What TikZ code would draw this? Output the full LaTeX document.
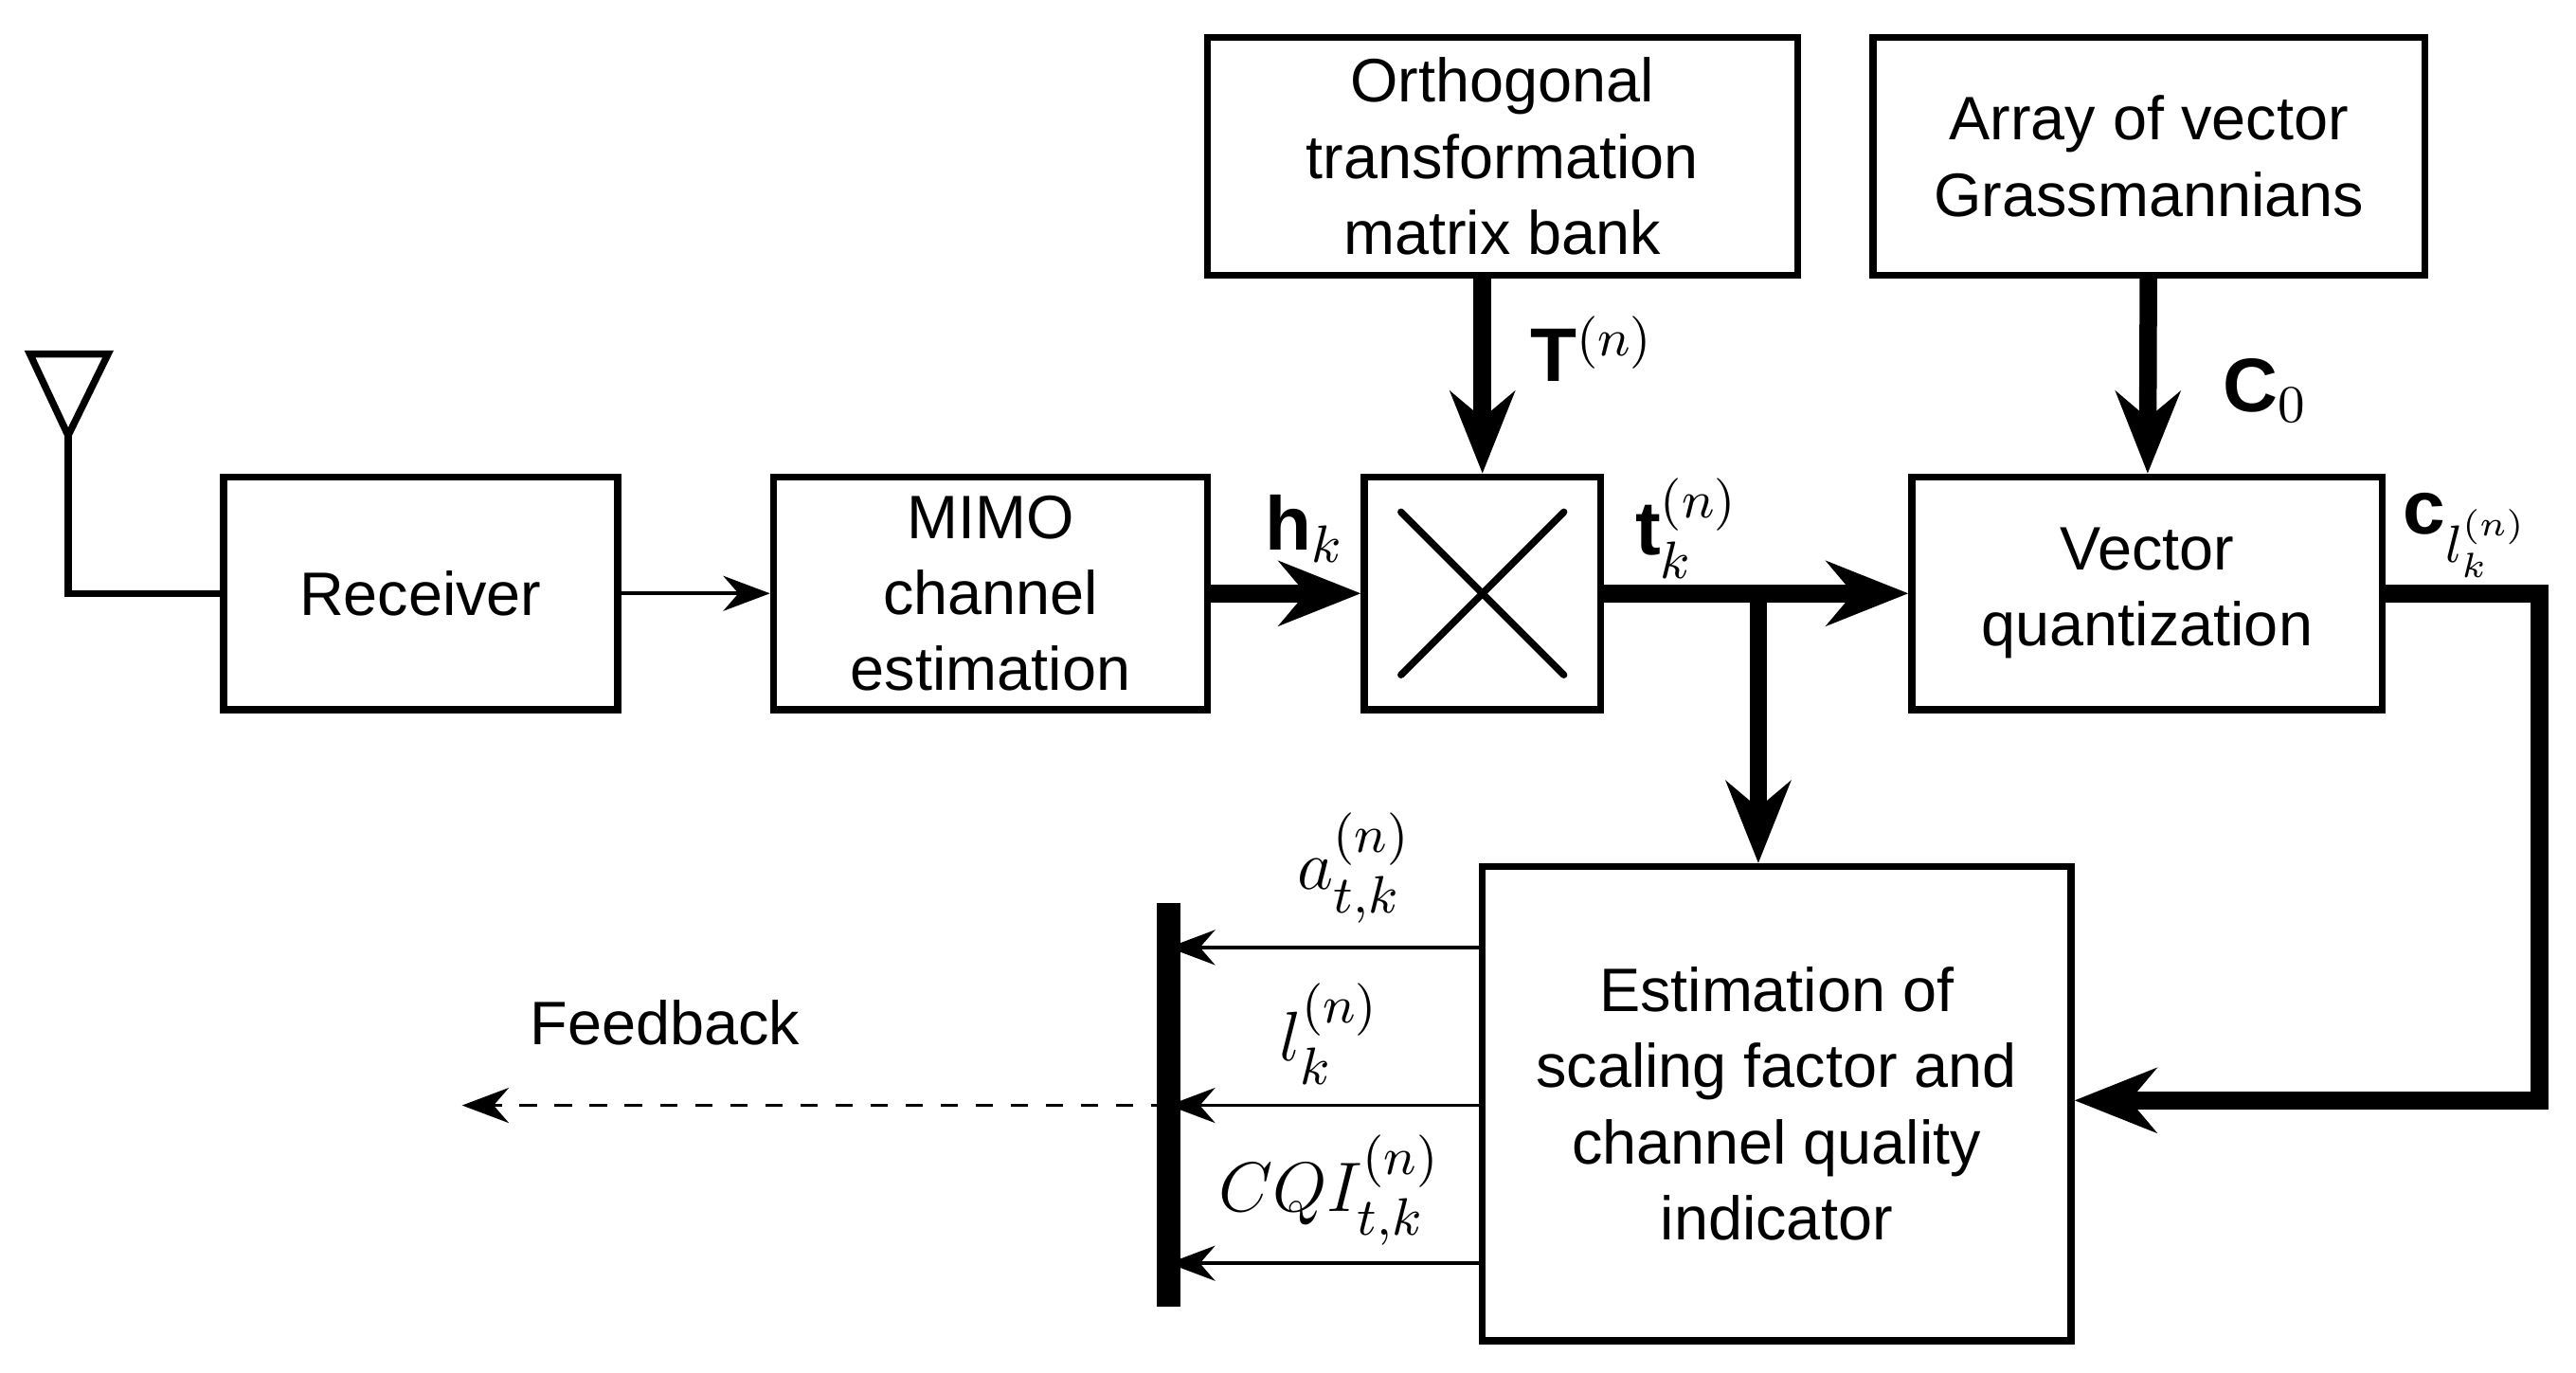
\documentclass[tikz,border=0pt]{standalone}
\usepackage{fontspec}
\setmainfont{Liberation Sans}
\usepackage{amsmath}
\usetikzlibrary{arrows,arrows.meta,positioning,calc}

\begin{document}
\begin{tikzpicture}[x=0.01cm,y=-0.01cm]
        % Define styles
        \tikzstyle{block} = [rectangle, draw, line width=1.2pt, align=center,
            font=\fontsize{10.5}{13}\selectfont, inner sep=0pt]
        \tikzstyle{thin} = [line width=0.6pt,-{Stealth[length=8pt,width=6pt]}]
        \tikzstyle{arrow} = [line width=3pt,-{Stealth[length=14pt,width=11pt]}]
        \tikzstyle{lbl} = [font=\fontsize{13}{15}\selectfont]
        \useasboundingbox (0,0) rectangle (1550,826);

        % Nodes
        \node [block, minimum width=2.37cm, minimum height=1.4cm] (rx) at (253,357) {Receiver};
        \node [block, minimum width=2.61cm, minimum height=1.4cm] (mimo) at (596,357) {MIMO\\channel\\estimation};
        \node [block, minimum width=1.42cm, minimum height=1.4cm] (mult) at (892,357) {};
        \node [block, minimum width=3.55cm, minimum height=1.43cm] (ortho) at (904,94) {Orthogonal\\transformation\\matrix bank};
        \node [block, minimum width=3.32cm, minimum height=1.43cm] (grass) at (1293,94) {Array of vector\\Grassmannians};
        \node [block, minimum width=2.83cm, minimum height=1.4cm] (vq) at (1292,357) {Vector\\quantization};
        \node [block, minimum width=3.54cm, minimum height=2.85cm] (est) at (1069,664) {Estimation of\\scaling factor and\\channel quality\\indicator};
        \coordinate (turn) at (1528,357);
        \coordinate (branch) at (1058,357);
        \coordinate (bartop) at (703,543);
        \coordinate (barbot) at (703,786);
        \coordinate (fb) at (278,665);

        % Antenna
        \draw [line width=1.2pt] (18,213) -- (65,213) -- (41,262) -- cycle;
        \draw [line width=1.2pt] (41,262) |- (rx.west);
        \draw [line width=1.2pt, line cap=round] (mult.center) ++(-49,-49) -- ++(98,98);
        \draw [line width=1.2pt, line cap=round] (mult.center) ++(49,-49) -- ++(-98,98);

        % Arrows
        \draw [thin] (rx) -- (mimo);
        \draw [arrow] (mimo) -- (mult);
        \draw [arrow] (ortho.south -| mult) -- (mult);
        \draw [arrow] (mult) -- (vq);
        \draw [arrow] (branch) -- (branch |- est.north);
        \draw [arrow] (grass) -- (vq);
        \draw [arrow] (vq.east) -- (turn) |- (est.east |- 0,662);
        \draw [line width=4pt] (bartop) -- (barbot);
        \foreach \y in {570,665,760}
            \draw [thin] (est.west |- 0,\y) -- (703,\y);
        \draw [thin, dashed] (703,665) -- (fb);

        % Labels
        \node [lbl] at (785,318) {$\mathbf{h}_k$};
        \node [lbl] at (958,210) {$\mathbf{T}^{(n)}$};
        \node [lbl] at (1015,318) {$\mathbf{t}_k^{(n)}$};
        \node [lbl] at (1363,235) {$\mathbf{C}_0$};
        \node [lbl] at (1484,322) {$\mathbf{c}_{l_k^{(n)}}$};
        \node [lbl] at (815,522) {$a_{t,k}^{(n)}$};
        \node [lbl] at (800,622) {$l_k^{(n)}$};
        \node [lbl] at (800,716) {$CQI_{t,k}^{(n)}$};
        \node [font=\fontsize{10.5}{13}\selectfont] at (400,615) {Feedback};
\end{tikzpicture}
\end{document}
